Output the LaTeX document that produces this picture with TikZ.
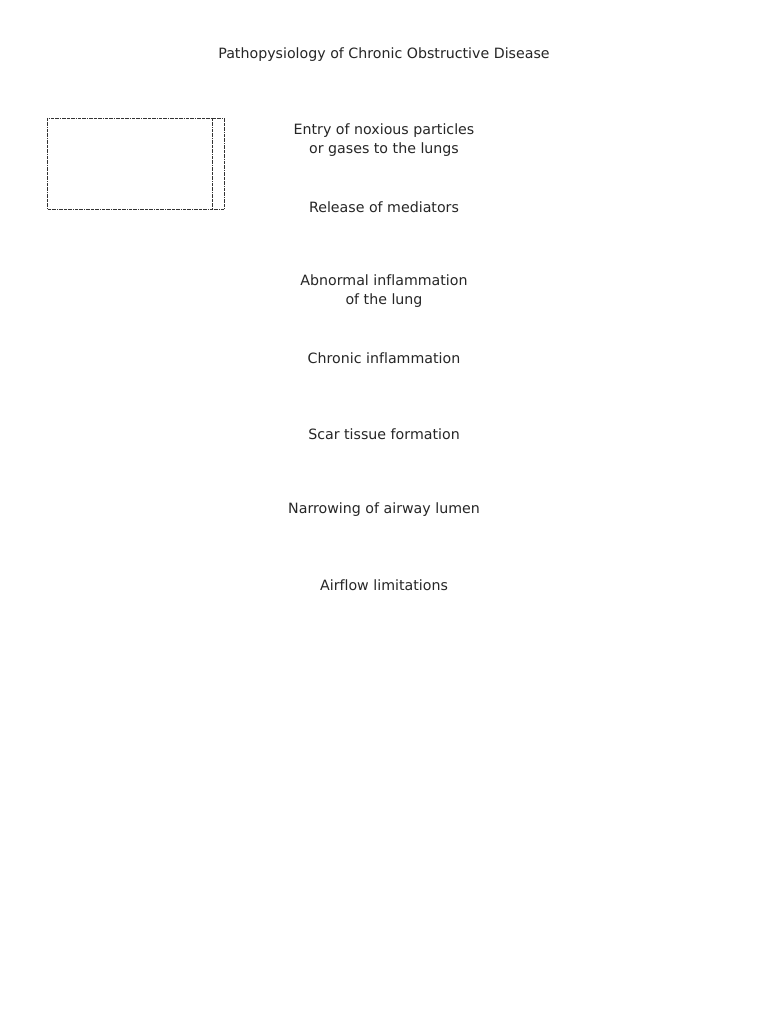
\documentclass[tikz,border=0pt]{standalone}
\usepackage{fontspec}
\setmainfont{DejaVu Sans}[Ligatures=NoCommon]
\begin{document}
\begin{tikzpicture}[x=1pt,y=-1pt,
  lbl/.style={inner sep=0pt,align=center,font=\fontsize{14.2}{19}\selectfont,text=black!85},
  frame/.style={draw=black!80,line width=0.6pt,dash pattern=on 3pt off 0.8pt on 0.8pt off 0.8pt}]
\useasboundingbox[fill=white] (0,0) rectangle (768,1024);
\node[lbl] (title) at (384,55) {Pathopysiology of Chronic Obstructive Disease};
\node[lbl] (entry) at (384,140) {Entry of noxious particles\\or gases to the lungs};
\node[lbl] (release) at (384,207) {Release of mediators};
\node[lbl] (abn) at (384,291.5) {Abnormal inflammation\\of the lung};
\node[lbl] (chronic) at (384,358) {Chronic inflammation};
\node[lbl] (scar) at (384,434) {Scar tissue formation};
\node[lbl] (narrow) at (384,510) {Narrowing of airway lumen};
\node[lbl] (air) at (384,585) {Airflow limitations};
\draw[frame] (47,118) rectangle (224,209);
\draw[frame] (212,118) -- (212,208.5);
\end{tikzpicture}
\end{document}
